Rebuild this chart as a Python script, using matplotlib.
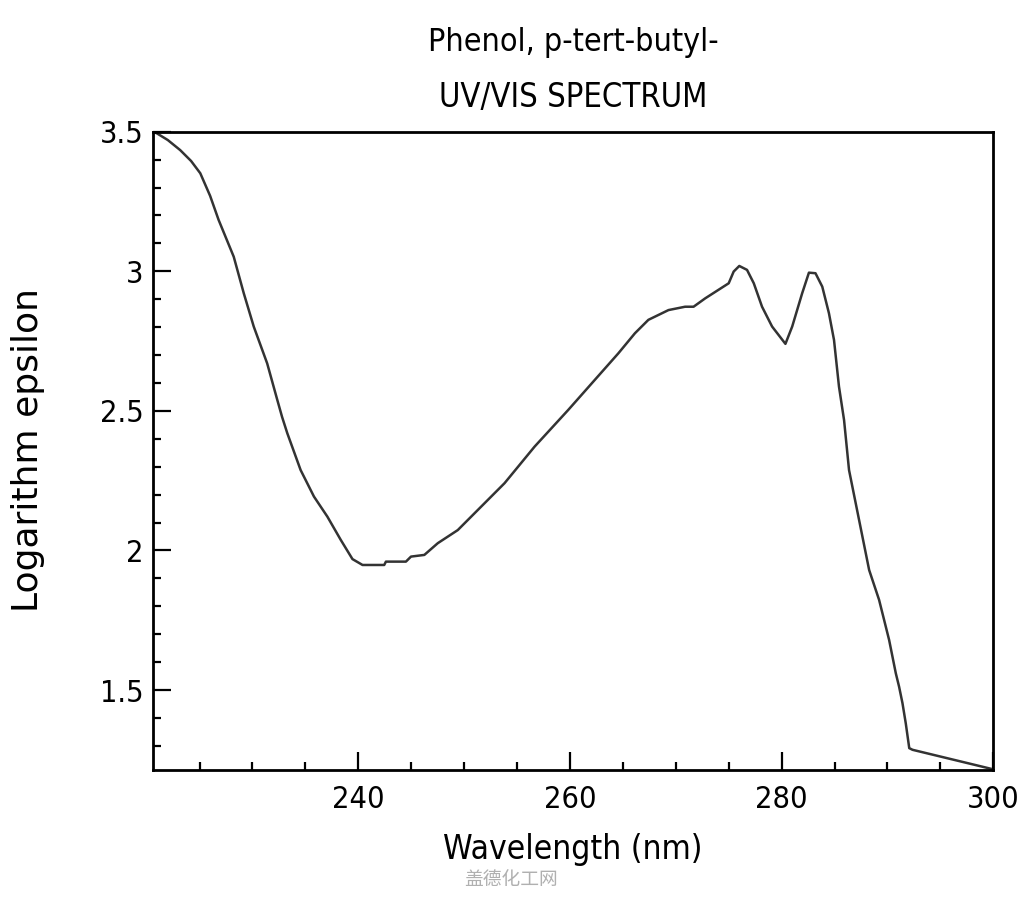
import matplotlib
matplotlib.use("Agg")
import matplotlib.pyplot as plt
from matplotlib.ticker import MultipleLocator

wavelength = [220.6, 220.97, 222.0, 223.17, 224.2, 225.07, 226.0, 226.8, 228.23, 229.18,
              230.12, 231.39, 232.34, 232.8, 233.29, 234.55, 235.81, 237.08, 238.34, 239.45,
              240.40, 242.45, 242.61, 244.50, 244.98, 246.24, 247.51, 249.40, 251.61,
              253.82, 256.66, 259.83, 262.35, 264.57, 266.14, 267.41, 269.31, 270.88,
              271.68, 272.78, 275.00, 275.47, 276.00, 276.73, 277.37, 278.15, 279.10,
              280.36, 281.00, 281.94, 282.58, 283.20, 283.84, 284.47, 284.95, 285.42,
              285.90, 286.37, 287.32, 288.27, 289.21, 290.16, 290.79, 291.10, 291.42,
              291.73, 292.06, 292.37, 300.0]
log_eps = [3.500, 3.494, 3.470, 3.434, 3.395, 3.351, 3.270, 3.184, 3.052, 2.921,
           2.802, 2.670, 2.540, 2.478, 2.420, 2.288, 2.193, 2.121, 2.038, 1.969,
           1.948, 1.948, 1.960, 1.960, 1.978, 1.984, 2.026, 2.073, 2.157,
           2.241, 2.372, 2.503, 2.611, 2.706, 2.778, 2.826, 2.861, 2.873,
           2.873, 2.903, 2.957, 2.999, 3.019, 3.005, 2.957, 2.873, 2.802,
           2.740, 2.802, 2.921, 2.995, 2.993, 2.945, 2.850, 2.754, 2.587,
           2.467, 2.288, 2.109, 1.930, 1.823, 1.679, 1.560, 1.512, 1.453,
           1.381, 1.292, 1.286, 1.216]

title_lines = ["Phenol, p-tert-butyl-", "UV/VIS SPECTRUM"]
x_label = "Wavelength (nm)"
y_label = "Logarithm epsilon"
watermark = "盖德化工网"
x_ticks = [240, 260, 280, 300]
y_ticks = [1.5, 2, 2.5, 3, 3.5]
y_tick_labels = ["1.5", "2", "2.5", "3", "3.5"]

plt.rcParams['font.family'] = ['DejaVu Sans', 'Noto Sans CJK SC']
plt.rcParams['font.stretch'] = 'condensed'

fig = plt.figure(figsize=(10.24, 9), dpi=100)
ax = fig.add_axes([0.1494, 0.1444, 0.8206, 0.7093])

ax.plot(wavelength, log_eps, color='#333333', linewidth=1.8, solid_joinstyle='round')
ax.set_xlim(220.6, 300)
ax.set_ylim(1.2135, 3.5)

ax.set_xticks(x_ticks)
ax.set_xticklabels([str(t) for t in x_ticks])
ax.set_yticks(y_ticks)
ax.set_yticklabels(y_tick_labels)
ax.xaxis.set_minor_locator(MultipleLocator(5))
ax.yaxis.set_minor_locator(MultipleLocator(0.1))

ax.tick_params(which='both', direction='in', top=False, right=False, width=1.6, color='black')
ax.tick_params(which='major', length=13, labelsize=22)
ax.tick_params(which='minor', length=6)
ax.tick_params(axis='x', which='major', pad=11)
ax.tick_params(axis='y', which='major', pad=7)

for sp in ax.spines.values():
    sp.set_linewidth(2.0)
    sp.set_color('black')

fig.text(0.5596, 1 - 42 / 900, title_lines[0], ha='center', va='center', fontsize=23)
fig.text(0.5596, 1 - 98 / 900, title_lines[1], ha='center', va='center', fontsize=23.5)
fig.text(0.5596, 1 - 850 / 900, x_label, ha='center', va='center', fontsize=24)
fig.text(28 / 1024, 1 - 450 / 900, y_label, ha='center', va='center', rotation=90,
         fontsize=26, fontstretch='normal')
fig.text(511 / 1024, 1 - 880 / 900, watermark, ha='center', va='center', fontsize=13.5,
         color='#b0b0b0', family=['Noto Sans CJK SC', 'DejaVu Sans'])

fig.savefig("out.png", dpi=100, facecolor='white')
